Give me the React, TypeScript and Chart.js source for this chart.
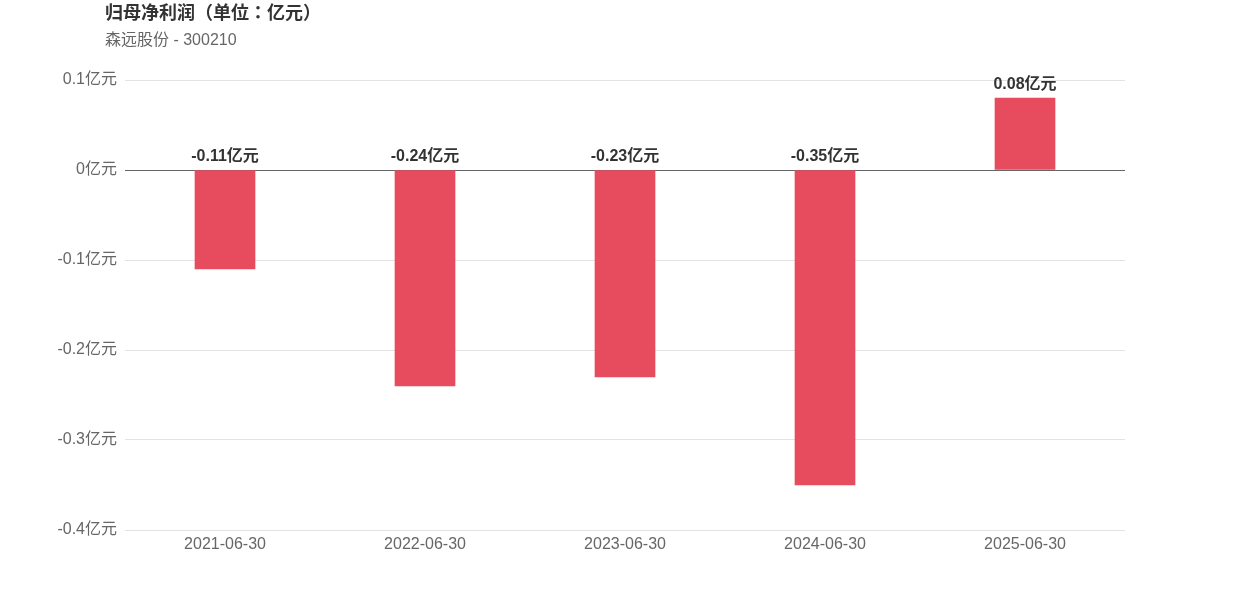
import React, { useEffect, useRef } from "react";
import { Chart, registerables } from "chart.js";

Chart.register(...registerables);

const categories = ["2021-06-30", "2022-06-30", "2023-06-30", "2024-06-30", "2025-06-30"];
const values = [-0.11, -0.24, -0.23, -0.35, 0.08];
const titleText = "归母净利润（单位：亿元）";
const subtitleText = "森远股份 - 300210";
const unit = "亿元";

const FONT = '"Liberation Sans", Arial, "Noto Sans CJK SC", sans-serif';
const TITLE_FONT = '"Liberation Sans", Arial, "Noto Sans CJK JP", sans-serif';

function fmt(v: number): string {
  const r = Math.round(v * 100) / 100;
  return `${r}${unit}`;
}

export default function App() {
  const ref = useRef<HTMLCanvasElement | null>(null);
  useEffect(() => {
    if (!ref.current) return;
    const textPlugin = {
      id: "texts",
      afterDraw(chart: any) {
        const ctx = chart.ctx;
        ctx.save();
        ctx.textAlign = "left";
        ctx.textBaseline = "middle";
        ctx.fillStyle = "#333333";
        ctx.font = `bold 18px ${TITLE_FONT}`;
        ctx.fillText(titleText, 105, 14.5);
        ctx.fillStyle = "#666666";
        ctx.font = `16px ${FONT}`;
        ctx.fillText(subtitleText, 105, 41);
        // data labels
        const meta = chart.getDatasetMeta(0);
        const yScale = chart.scales.y;
        const zero = yScale.getPixelForValue(0);
        ctx.textAlign = "center";
        ctx.fillStyle = "#333333";
        ctx.font = `bold 16px ${FONT}`;
        meta.data.forEach((bar: any, i: number) => {
          const top = Math.min(bar.y, zero);
          ctx.fillText(fmt(values[i]), bar.x, top - 13);
        });
        ctx.restore();
      },
    };
    const chart = new Chart(ref.current, {
      type: "bar",
      data: {
        labels: categories,
        datasets: [
          {
            data: values,
            backgroundColor: "#e64b5e",
            borderWidth: 0,
            barThickness: 60,
          },
        ],
      },
      options: {
        responsive: false,
        animation: false,
        layout: { padding: { top: 80, right: 125, bottom: 0, left: 0 } },
        plugins: {
          legend: { display: false },
          title: { display: false },
          tooltip: { enabled: false },
        },
        scales: {
          x: {
            grid: { display: false, drawTicks: false },
            border: { display: false },
            ticks: { color: "#666666", font: { size: 16, family: FONT }, padding: 5, maxRotation: 0 },
            afterFit(scale: any) {
              scale.height = 70;
            },
          },
          y: {
            min: -0.4,
            max: 0.1,
            ticks: {
              stepSize: 0.1,
              color: "#666666",
              font: { size: 16, family: FONT },
              padding: 8,
              callback: (v: any) => fmt(Number(v)),
            },
            grid: {
              drawTicks: false,
              color: (c: any) => (c.tick && Math.abs(c.tick.value) < 1e-9 ? "#666666" : "#e3e3e3"),
              lineWidth: 1,
            },
            border: { display: false },
            afterFit(scale: any) {
              scale.width = 125;
            },
          },
        },
      },
      plugins: [textPlugin],
    });
    return () => chart.destroy();
  }, []);
  return (
    <div style={{ position: "absolute", left: 0, top: 0, width: 1250, height: 600 }}>
      <canvas ref={ref} width={1250} height={600} />
    </div>
  );
}
